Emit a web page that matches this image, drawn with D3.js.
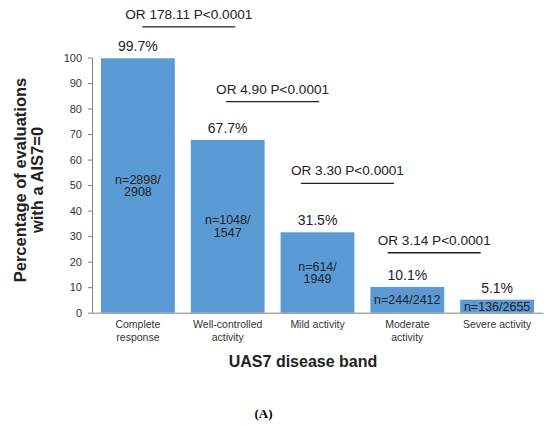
<!DOCTYPE html>
<meta charset="utf-8">
<style>
  body { margin: 0; background: #fff; }
  svg { font-family: "Liberation Sans", Arial, sans-serif; }
  .bar { fill: #5b9bd5; }
  .axis path, .axis line { stroke: #808080; }
  .axis text { fill: #333; font-size: 11px; }
</style>

<svg width="550" height="426"></svg>
<script src="https://d3js.org/d3.v7.min.js"></script>

<script>
  // data
  var categories = ["Complete\nresponse", "Well-controlled\nactivity", "Mild activity", "Moderate\nactivity", "Severe activity"];
  var percents = [99.7, 67.7, 31.5, 10.1, 5.1];
  var counts = ["n=2898/\n2908", "n=1048/\n1547", "n=614/\n1949", "n=244/2412", "n=136/2655"];
  var yTicks = [0, 10, 20, 30, 40, 50, 60, 70, 80, 90, 100];

  // odds ratio comparisons between neighbouring bands
  var orLabels = ["OR 178.11 P<0.0001", "OR 4.90 P<0.0001", "OR 3.30 P<0.0001", "OR 3.14 P<0.0001"];
  var orLevels = [112, 82.7, 50.7, 23.5];   // height of bracket, in % units
  var orShift = [6, 0, -15, -18];           // small horizontal nudge (px)

  var svg = d3.select("svg");
  var plotLeft = 92, plotRight = 543, plotTop = 57.5, plotBottom = 312.7;

  var x = d3.scaleBand().domain(categories).range([plotLeft, plotRight]).paddingInner(0.178).paddingOuter(0.1),
      y = d3.scaleLinear().domain([0, 100]).range([plotBottom, plotTop]);

  // bars
  svg.selectAll(".bar")
    .data(percents)
    .enter().append("rect")
      .attr("class", "bar")
      .attr("x", function(d, i) { return x(categories[i]); })
      .attr("y", function(d) { return y(d); })
      .attr("width", x.bandwidth())
      .attr("height", function(d) { return y(0) - y(d); });

  // y axis
  svg.append("g")
      .attr("class", "axis")
      .attr("transform", "translate(" + plotLeft + ",0)")
      .call(d3.axisLeft(y).tickValues(yTicks).tickSize(4).tickSizeOuter(0).tickPadding(6));

  // x axis (line only, labels drawn below)
  svg.append("g")
      .attr("class", "axis")
      .attr("transform", "translate(0," + plotBottom + ")")
      .call(d3.axisBottom(x).tickSize(0).tickSizeOuter(0).tickFormat(""));

  // category labels, possibly on two lines
  var cat = svg.append("g").selectAll("text")
    .data(categories)
    .enter().append("text")
      .attr("text-anchor", "middle")
      .attr("font-size", "10.5px")
      .attr("fill", "#333")
      .attr("transform", function(d) { return "translate(" + (x(d) + x.bandwidth() / 2) + "," + (plotBottom + 15.5) + ")"; });
  cat.selectAll("tspan")
    .data(function(d) { return d.split("\n"); })
    .enter().append("tspan")
      .attr("x", 0)
      .attr("y", function(d, i) { return i * 12.7; })
      .text(function(d) { return d; });

  // percentage above each bar
  svg.append("g").selectAll("text")
    .data(percents)
    .enter().append("text")
      .attr("text-anchor", "middle")
      .attr("font-size", "14px")
      .attr("fill", "#222")
      .attr("x", function(d, i) { return x(categories[i]) + x.bandwidth() / 2; })
      .attr("y", function(d) { return y(d) - 7; })
      .text(function(d) { return d + "%"; });

  // counts inside each bar
  var cnt = svg.append("g").selectAll("text")
    .data(counts)
    .enter().append("text")
      .attr("text-anchor", "middle")
      .attr("font-size", "12.5px")
      .attr("fill", "#222")
      .attr("transform", function(d, i) {
        var mid = (y(percents[i]) + y(0)) / 2;
        var lines = d.split("\n").length;
        return "translate(" + (x(categories[i]) + x.bandwidth() / 2) + "," + (mid - (lines - 1) * 6.3) + ")";
      });
  cnt.selectAll("tspan")
    .data(function(d) { return d.split("\n"); })
    .enter().append("tspan")
      .attr("x", 0)
      .attr("y", function(d, i) { return i * 12.6; })
      .attr("dy", "0.35em")
      .text(function(d) { return d; });

  // OR brackets
  var orG = svg.append("g").selectAll("g")
    .data(orLabels)
    .enter().append("g")
      .attr("transform", function(d, i) {
        var cx = (x(categories[i]) + x.bandwidth() + x(categories[i + 1])) / 2 + orShift[i];
        return "translate(" + cx + "," + y(orLevels[i]) + ")";
      });
  orG.append("line")
      .attr("x1", -46.5)
      .attr("x2", 46.5)
      .attr("stroke", "#222")
      .attr("stroke-width", 1.3);
  orG.append("text")
      .attr("text-anchor", "middle")
      .attr("font-size", "13.6px")
      .attr("fill", "#222")
      .attr("y", -8)
      .text(function(d) { return d; });

  // axis titles
  svg.append("text")
      .attr("transform", "translate(26,180) rotate(-90)")
      .attr("text-anchor", "middle")
      .attr("font-size", "16.5px")
      .attr("font-weight", "bold")
      .attr("fill", "#222")
    .selectAll("tspan")
    .data(["Percentage of evaluations", "with a AIS7=0"])
    .enter().append("tspan")
      .attr("x", 0)
      .attr("y", function(d, i) { return i * 16.5; })
      .text(function(d) { return d; });

  svg.append("text")
      .attr("x", 303)
      .attr("y", 367)
      .attr("text-anchor", "middle")
      .attr("font-size", "16px")
      .attr("font-weight", "bold")
      .attr("fill", "#222")
      .text("UAS7 disease band");

  svg.append("text")
      .attr("x", 263.5)
      .attr("y", 418)
      .attr("text-anchor", "middle")
      .attr("font-family", "'Liberation Serif', 'Times New Roman', serif")
      .attr("font-size", "13px")
      .attr("font-weight", "bold")
      .attr("fill", "#000")
      .text("(A)");
</script>
